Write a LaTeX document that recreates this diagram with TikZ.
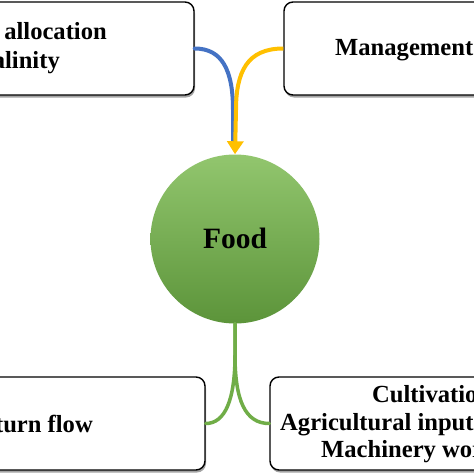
\documentclass[tikz,border=0pt]{standalone}
\usepackage{fontspec}
\setmainfont{Liberation Serif}
\usetikzlibrary{arrows.meta,shadows}
\definecolor{cblue}{RGB}{68,114,196}
\definecolor{cyellow}{RGB}{255,192,0}
\definecolor{cgreen}{RGB}{112,173,71}
\definecolor{ftop}{RGB}{146,198,110}
\definecolor{fbot}{RGB}{92,148,58}
\begin{document}
\begin{tikzpicture}[x=1pt,y=-1pt,
  box/.style={draw=black, line width=1.4pt, rounded corners=9pt, fill=white,
    drop shadow={shadow xshift=1pt, shadow yshift=-2.5pt, fill=black!45, opacity=0.8}},
  lbl/.style={font=\bfseries\fontsize{24.6}{29}\selectfont, inner sep=0pt},
  conn/.style={line width=4pt, line cap=round}]
\useasboundingbox (0,0) rectangle (474,474);
\clip (0,0) rectangle (474,474);
\fill[white] (0,0) rectangle (474,474);
% boxes
\node[box, minimum width=344pt, minimum height=93pt] (tl) at (22,48.5) {};
\node[box, minimum width=356pt, minimum height=93pt] (tr) at (462,48.5) {};
\node[box, minimum width=355pt, minimum height=93pt] (bl) at (27.5,423.5) {};
\node[box, minimum width=370pt, minimum height=93pt] (br) at (455,423.5) {};
% texts
\node[lbl, anchor=base east] (t1) at (107,39) {Water allocation};
\node[lbl, anchor=base east] (t2) at (60,68) {Salinity};
\node[lbl, anchor=base west] (t3) at (335,55) {Management};
\node[lbl, anchor=base east] (t4) at (93,432) {Return flow};
\node[lbl, anchor=base west] (t5) at (372,402) {Cultivation};
\node[lbl, anchor=base west] (t6) at (280,430) {Agricultural inputs};
\node[lbl, anchor=base west] (t7) at (321,457) {Machinery work};
% food
\node[circle, minimum size=169pt, inner sep=0pt, top color=ftop, bottom color=fbot] (food) at (235,239) {};
\node[font=\bfseries\fontsize{29.5}{34}\selectfont, anchor=base, inner sep=0pt] (ft) at (235,248) {Food};
% connectors
\draw[conn, cblue, shorten >=14pt] (tl.east) .. controls (222,48.5) and (233,70) .. (233,110) -- ([xshift=-2pt]food.north);
\draw[conn, cyellow, line cap=butt, -{Triangle[width=16pt,length=13pt]}] (tr.west) .. controls (247,48.5) and (236,72) .. (236,110) -- (food.north);
\draw[conn, cgreen, line width=3.5pt] (food.south) -- (235,355) .. controls (235,400) and (225,423.5) .. (bl.east);
\draw[conn, cgreen, line width=3.5pt] (food.south) -- (235,355) .. controls (235,400) and (245,423.5) .. (br.west);
\end{tikzpicture}
\end{document}
